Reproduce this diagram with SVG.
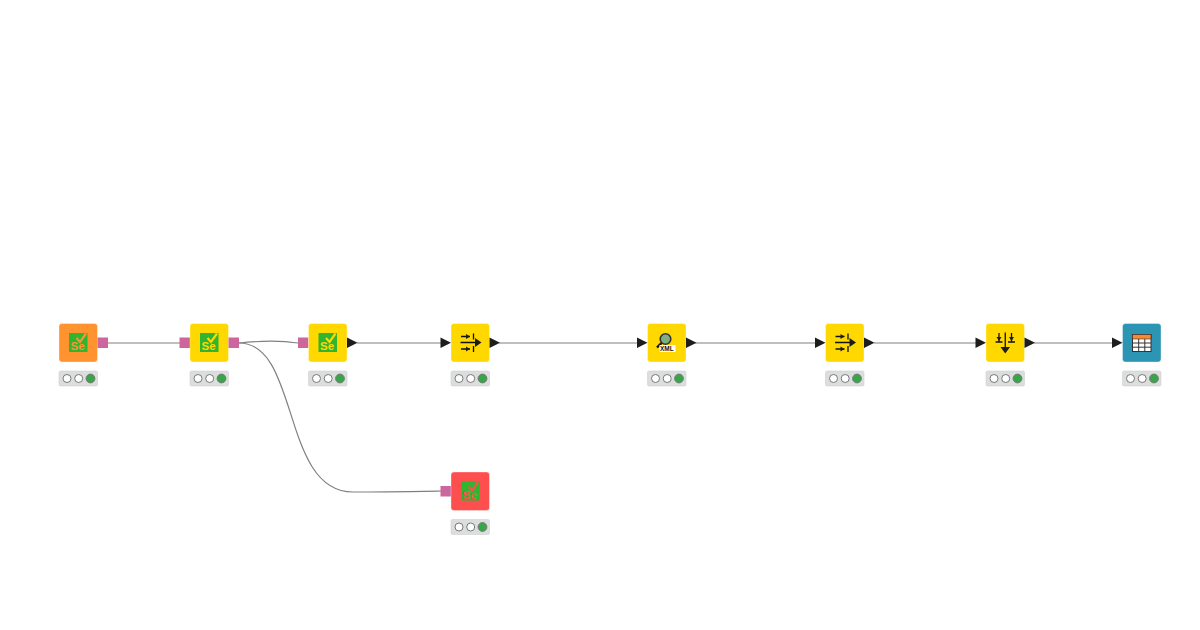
<svg xmlns="http://www.w3.org/2000/svg" xmlns:xlink="http://www.w3.org/1999/xlink" width="1200" height="630" viewBox="0 0 1200 630">
<style>
.body{stroke:#fff;stroke-opacity:.35;stroke-width:1}
.conn{fill:none;stroke:#808080;stroke-width:1.2}
.pink{fill:#cc669c}
.blk{fill:#1d1d1b}
.tl{fill:#dcdedd;stroke:#cfd1d0;stroke-width:.6}
.off{fill:#fff;stroke:#777;stroke-width:1}
.on{fill:#35a746;stroke:#777;stroke-width:1}
.se{fill:#2fb52f}
.sq{font-family:"Liberation Sans",Arial,sans-serif;font-weight:700;font-size:11.5px}
.ic{fill:none;stroke:#111;stroke-width:1.3}
</style>
<defs>
<g id="lights">
<rect class="tl" x="0" y="47.5" width="38.5" height="15" rx="1.5"/>
<circle class="off" cx="8" cy="55" r="4"/>
<circle class="off" cx="19.7" cy="55" r="4"/>
<circle class="on" cx="31.5" cy="55" r="4.4"/>
</g>
<path id="tick" d="M11.5 16.5l3.5 4 6-8.5" fill="none" stroke-width="2.2" transform="translate(6 -2)"/>
<g id="mergeH">
<path class="ic" d="M10 13h9M10 25.500h9M9.500 19h18M22.500 10v6M22.500 22.500v6"/>
<path class="blk" d="M15 10.500l4 2.500-4 2.500zM15 23l4 2.500-4 2.500zM24 14.500l6.500 4.500-6.500 4.500z"/>
</g>
</defs>

<rect width="1200" height="630" fill="#fff"/>

<g id="connectors">
<path class="conn" d="M108 343H180"/>
<path class="conn" d="M239 343C258 341 278 340 298 343"/>
<path class="conn" d="M239 343C300 343 281 492 353 492C380 492 410 491.500 441 491"/>
<path class="conn" d="M357 343H441"/>
<path class="conn" d="M499 343H637"/>
<path class="conn" d="M695 343H815"/>
<path class="conn" d="M874 343H976"/>
<path class="conn" d="M1034 343H1112"/>
</g>

<g id="node-1" transform="translate(59 323.500)">
<rect class="body" width="38.500" height="38.500" rx="3" fill="#fe9330"/>
<rect class="pink" x="38.500" y="14" width="10.500" height="10.500"/>
<rect class="se" x="10" y="9.500" width="18.500" height="19"/>
<text class="sq" x="11.500" y="26.500" fill="#fe9330">Se</text>
<use href="#tick" stroke="#fe9330"/>
<use href="#lights"/>
</g>

<g id="node-2" transform="translate(190 323.500)">
<rect class="pink" x="-10.500" y="14" width="10.500" height="10.500"/>
<rect class="body" width="38.500" height="38.500" rx="3" fill="#ffd800"/>
<rect class="pink" x="38.500" y="14" width="10.500" height="10.500"/>
<rect class="se" x="10" y="9.500" width="18.500" height="19"/>
<text class="sq" x="11.500" y="26.500" fill="#ffd800">Se</text>
<use href="#tick" stroke="#ffd800"/>
<use href="#lights"/>
</g>

<g id="node-3" transform="translate(308.500 323.500)">
<rect class="pink" x="-10.500" y="14" width="10.500" height="10.500"/>
<rect class="body" width="38.500" height="38.500" rx="3" fill="#ffd800"/>
<path class="blk" d="M38.500 14l10.500 5.250-10.500 5.250z"/>
<rect class="se" x="10" y="9.500" width="18.500" height="19"/>
<text class="sq" x="11.500" y="26.500" fill="#ffd800">Se</text>
<use href="#tick" stroke="#ffd800"/>
<use href="#lights"/>
</g>

<g id="node-4" transform="translate(451 323.500)">
<rect class="body" width="38.500" height="38.500" rx="3" fill="#ffd800"/>
<path class="blk" d="M-10.500 14l10.500 5.250-10.500 5.250zM38.500 14l10.500 5.250-10.500 5.250z"/>
<use href="#mergeH"/>
<use href="#lights"/>
</g>

<g id="node-5" transform="translate(647.500 323.500)">
<rect class="body" width="38.500" height="38.500" rx="3" fill="#ffd800"/>
<path class="blk" d="M-10.500 14l10.500 5.250-10.500 5.250zM38.500 14l10.500 5.250-10.500 5.250z"/>
<circle cx="18" cy="15.500" r="5.300" fill="#7fae84" stroke="#333" stroke-width="1.600"/>
<path d="M14 19.500l-4.500 4.500" stroke="#111" stroke-width="2.400"/>
<rect x="12" y="21.500" width="16" height="7" fill="#fff"/>
<text x="12.500" y="27.800" font-family="'Liberation Sans',Arial,sans-serif" font-weight="700" font-size="6.500" fill="#111">XML</text>
<use href="#lights"/>
</g>

<g id="node-6" transform="translate(825.500 323.500)">
<rect class="body" width="38.500" height="38.500" rx="3" fill="#ffd800"/>
<path class="blk" d="M-10.500 14l10.500 5.250-10.500 5.250zM38.500 14l10.500 5.250-10.500 5.250z"/>
<use href="#mergeH"/>
<use href="#lights"/>
</g>

<g id="node-7" transform="translate(986 323.500)">
<rect class="body" width="38.500" height="38.500" rx="3" fill="#ffd800"/>
<path class="blk" d="M-10.500 14l10.500 5.250-10.500 5.250zM38.500 14l10.500 5.250-10.500 5.250z"/>
<path class="ic" d="M13 9.500v9M25.500 9.500v9M19.250 9v18M9.500 18.500h7M22 18.500h7"/>
<path class="blk" d="M10.500 13.500l2.500 4 2.500-4zM23 13.500l2.500 4 2.500-4zM14.500 23.500l4.750 6.500 4.750-6.500z"/>
<use href="#lights"/>
</g>

<g id="node-8" transform="translate(1122.500 323.500)">
<rect class="body" width="38.500" height="38.500" rx="3" fill="#2b95b3"/>
<path class="blk" d="M-10.500 14l10.500 5.250-10.500 5.250z"/>
<rect x="10" y="11" width="18.500" height="17" fill="#fff" stroke="#333" stroke-width="1"/>
<rect x="10" y="11" width="18.500" height="4.500" fill="#f58a32" stroke="#333" stroke-width=".6"/>
<path d="M10 19.500h18.500M10 23.700h18.500M16.200 15.500V28M22.300 15.500V28" fill="none" stroke="#333" stroke-width="1"/>
<use href="#lights"/>
</g>

<g id="node-9" transform="translate(451 472)">
<rect class="pink" x="-10.500" y="14" width="10.500" height="10.500"/>
<rect class="body" width="38.500" height="38.500" rx="3" fill="#fe4f4f"/>
<rect class="se" x="10" y="9.500" width="18.500" height="19"/>
<text class="sq" x="11.500" y="26.500" fill="#fe4f4f">Se</text>
<use href="#tick" stroke="#fe4f4f"/>
<use href="#lights"/>
</g>
</svg>
